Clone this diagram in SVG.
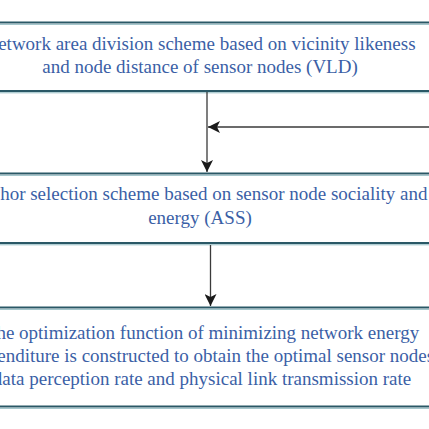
<svg xmlns="http://www.w3.org/2000/svg" width="429" height="429" viewBox="0 0 429 429">
<style>
.edge{stroke:#2a5866;stroke-width:2.2;fill:none}
.edge2{stroke:#8fb9c0;stroke-width:1;fill:none}
.t{font-family:"Liberation Serif","Times New Roman",serif;font-size:19px;fill:#3b5fa6;text-anchor:middle}
.c{stroke:#3a3a3a;stroke-width:1.3;fill:none}
</style>
<defs>
<marker id="ah" viewBox="0 0 12 12" refX="12" refY="6" markerWidth="12" markerHeight="12" markerUnits="userSpaceOnUse" orient="auto">
<path d="M0,0 L12,6 L0,12 L3,6 Z" fill="#1a1a1a"/>
</marker>
</defs>
<rect width="429" height="429" fill="#ffffff"/>
<g id="vld">
<line class="edge" x1="0" y1="22.5" x2="429" y2="22.5"/>
<line class="edge2" x1="0" y1="24.3" x2="429" y2="24.3"/>
<line class="edge" x1="0" y1="91" x2="429" y2="91"/>
<line class="edge2" x1="0" y1="92.8" x2="429" y2="92.8"/>
<text class="t" x="200" y="50">Network area division scheme based on vicinity likeness</text>
<text class="t" x="200" y="73">and node distance of sensor nodes (VLD)</text>
</g>
<g id="ass">
<line class="edge" x1="0" y1="173.5" x2="429" y2="173.5"/>
<line class="edge2" x1="0" y1="175.3" x2="429" y2="175.3"/>
<line class="edge" x1="0" y1="243" x2="429" y2="243"/>
<line class="edge2" x1="0" y1="244.8" x2="429" y2="244.8"/>
<text class="t" x="198" y="200">Anchor selection scheme based on sensor node sociality and</text>
<text class="t" x="200" y="224">energy (ASS)</text>
</g>
<g id="opt">
<line class="edge" x1="0" y1="307.5" x2="429" y2="307.5"/>
<line class="edge2" x1="0" y1="309.3" x2="429" y2="309.3"/>
<line class="edge" x1="0" y1="406.5" x2="429" y2="406.5"/>
<line class="edge2" x1="0" y1="408.3" x2="429" y2="408.3"/>
<text class="t" x="202" y="339">The optimization function of minimizing network energy</text>
<text class="t" x="202" y="362">expenditure is constructed to obtain the optimal sensor nodes</text>
<text class="t" x="202" y="385">data perception rate and physical link transmission rate</text>
</g>
<g id="connectors">
<line class="c" x1="207" y1="92" x2="207" y2="172" marker-end="url(#ah)"/>
<line class="c" x1="429" y1="127" x2="208" y2="127" marker-end="url(#ah)"/>
<line class="c" x1="210.5" y1="245" x2="210.5" y2="306" marker-end="url(#ah)"/>
</g>
</svg>
